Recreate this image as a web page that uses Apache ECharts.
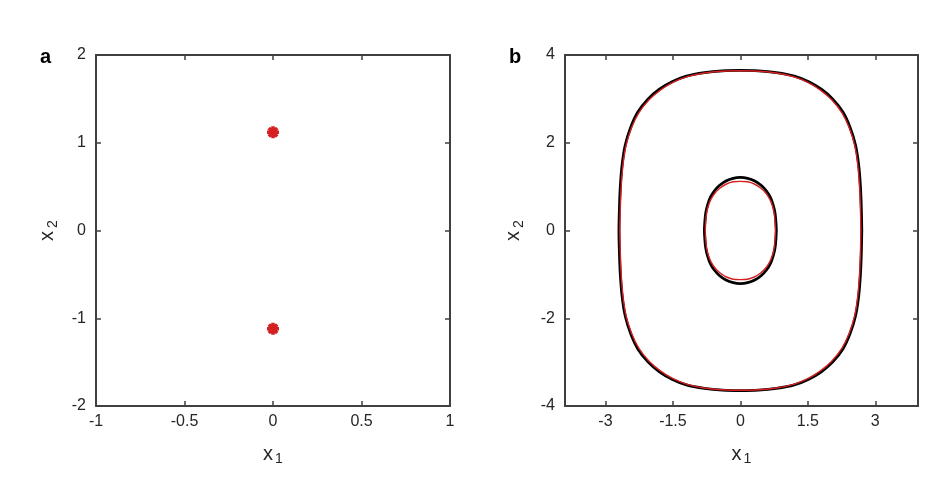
<!DOCTYPE html>
<html><head><meta charset="utf-8">
<script src="https://cdn.jsdelivr.net/npm/echarts@6/dist/echarts.min.js"></script>
<style>html,body{margin:0;background:#fff}#c{width:949px;height:482px}</style></head>
<body><div id="c"></div>
<script>
const pointsA = [[0, 1.12], [0, -1.12]];
const xTicksB = [-3, -1.5, 0, 1.5, 3];
const outerBlack = [[2.7,0],[2.69,0.5],[2.67,1.0],[2.63,1.5],[2.56,1.95],[2.44,2.35],[2.28,2.7],[2.05,3.0],[1.8,3.22],[1.52,3.39],[1.2,3.52],[0.8,3.6],[0.4,3.64],[0,3.65],
  [-0.4,3.64],[-0.8,3.6],[-1.2,3.52],[-1.52,3.39],[-1.8,3.22],[-2.05,3.0],[-2.28,2.7],[-2.44,2.35],[-2.56,1.95],[-2.63,1.5],[-2.67,1.0],[-2.69,0.5],[-2.7,0],
  [-2.69,-0.5],[-2.67,-1.0],[-2.63,-1.5],[-2.56,-1.95],[-2.44,-2.35],[-2.28,-2.7],[-2.05,-3.0],[-1.8,-3.22],[-1.52,-3.39],[-1.2,-3.52],[-0.8,-3.6],[-0.4,-3.64],[0,-3.65],
  [0.4,-3.64],[0.8,-3.6],[1.2,-3.52],[1.52,-3.39],[1.8,-3.22],[2.05,-3.0],[2.28,-2.7],[2.44,-2.35],[2.56,-1.95],[2.63,-1.5],[2.67,-1.0],[2.69,-0.5],[2.7,0]];
const outerRed = [[2.68,0],[2.67,0.5],[2.65,1.0],[2.61,1.5],[2.54,1.95],[2.42,2.34],[2.26,2.68],[2.03,2.98],[1.78,3.2],[1.51,3.37],[1.2,3.5],[0.8,3.59],[0.4,3.63],[0,3.64],
  [-0.4,3.63],[-0.8,3.59],[-1.2,3.5],[-1.51,3.37],[-1.78,3.2],[-2.03,2.98],[-2.26,2.68],[-2.42,2.34],[-2.54,1.95],[-2.61,1.5],[-2.65,1.0],[-2.67,0.5],[-2.68,0],
  [-2.67,-0.5],[-2.65,-1.0],[-2.61,-1.5],[-2.54,-1.95],[-2.42,-2.34],[-2.26,-2.68],[-2.03,-2.98],[-1.78,-3.2],[-1.51,-3.37],[-1.2,-3.5],[-0.8,-3.59],[-0.4,-3.63],[0,-3.64],
  [0.4,-3.63],[0.8,-3.59],[1.2,-3.5],[1.51,-3.37],[1.78,-3.2],[2.03,-2.98],[2.26,-2.68],[2.42,-2.34],[2.54,-1.95],[2.61,-1.5],[2.65,-1.0],[2.67,-0.5],[2.68,0]];
const innerBlack = [[0.8,0],[0.79,0.2],[0.77,0.4],[0.73,0.58],[0.67,0.75],[0.58,0.9],[0.46,1.03],[0.32,1.13],[0.16,1.19],[0,1.21],
  [-0.16,1.19],[-0.32,1.13],[-0.46,1.03],[-0.58,0.9],[-0.67,0.75],[-0.73,0.58],[-0.77,0.4],[-0.79,0.2],[-0.8,0],
  [-0.79,-0.2],[-0.77,-0.4],[-0.73,-0.58],[-0.67,-0.75],[-0.58,-0.9],[-0.46,-1.03],[-0.32,-1.13],[-0.16,-1.19],[0,-1.21],
  [0.16,-1.19],[0.32,-1.13],[0.46,-1.03],[0.58,-0.9],[0.67,-0.75],[0.73,-0.58],[0.77,-0.4],[0.79,-0.2],[0.8,0]];
const innerRed = [[0.78,0],[0.77,0.2],[0.75,0.4],[0.71,0.57],[0.65,0.72],[0.56,0.86],[0.45,0.97],[0.31,1.06],[0.16,1.11],[0,1.12],
  [-0.16,1.11],[-0.31,1.06],[-0.45,0.97],[-0.56,0.86],[-0.65,0.72],[-0.71,0.57],[-0.75,0.4],[-0.77,0.2],[-0.78,0],
  [-0.77,-0.2],[-0.75,-0.4],[-0.71,-0.57],[-0.65,-0.72],[-0.56,-0.86],[-0.45,-0.97],[-0.31,-1.06],[-0.16,-1.11],[0,-1.12],
  [0.16,-1.11],[0.31,-1.06],[0.45,-0.97],[0.56,-0.86],[0.65,-0.72],[0.71,-0.57],[0.75,-0.4],[0.77,-0.2],[0.78,0]];

const txt = '#262626', ax = '#404040', red = '#d42020';
const rich = {s:{fontSize:14, color:txt, padding:[10,0,0,2], fontFamily:'Liberation Sans'}, n:{fontSize:20, color:txt, fontFamily:'Liberation Sans'}};
function xa(grid, min, max, custom, interval, pos) {
  const o = {type:'value', gridIndex:grid, min, max, position:pos,
    axisLine:{show:true, onZero:false, lineStyle:{color:ax, width:2}},
    axisTick:{show:true, inside:true, length:5, lineStyle:{color:ax, width:1.5}},
    axisLabel:{show:pos==='bottom', color:txt, fontSize:16, fontFamily:'Liberation Sans', margin:8},
    splitLine:{show:false}};
  if (interval) o.interval = interval;
  if (custom) { o.axisTick.customValues = custom; o.axisLabel.customValues = custom; }
  if (pos==='bottom') { o.name='{n|x}{s|1}'; o.nameLocation='middle'; o.nameGap=36; o.nameTextStyle={rich}; }
  return o;
}
function ya(grid, min, max, interval, pos) {
  return {type:'value', gridIndex:grid, min, max, interval, position:pos,
    axisLine:{show:true, onZero:false, lineStyle:{color:ax, width:2}},
    axisTick:{show:true, inside:true, length:5, lineStyle:{color:ax, width:1.5}},
    axisLabel:{show:pos==='left', color:txt, fontSize:16, fontFamily:'Liberation Sans', margin:10},
    splitLine:{show:false}};
}
function ylabel(x, y) {
  return {type:'group', x, y, rotation:Math.PI/2, children:[
    {type:'text', x:0, y:0, style:{text:'x', font:'20px Liberation Sans', fill:txt, align:'center', verticalAlign:'middle'}},
    {type:'text', x:12, y:6, style:{text:'2', font:'14px Liberation Sans', fill:txt, align:'center', verticalAlign:'middle'}}
  ]};
}
const chart = echarts.init(document.getElementById('c'));
const line = (data, color, w) => ({type:'line', xAxisIndex:2, yAxisIndex:2, data, smooth:0.3, showSymbol:false, lineStyle:{color, width:w}, silent:true});
chart.setOption({
  animation:false,
  graphic:[
    {type:'text', left:40, top:47, style:{text:'a', font:'bold 20px Liberation Sans', fill:'#000'}},
    {type:'text', left:509, top:47, style:{text:'b', font:'bold 20px Liberation Sans', fill:'#000'}},
    ylabel(47, 236), ylabel(513, 236)
  ],
  grid:[{left:96, top:55, width:354, height:351}, {left:565, top:55, width:353, height:351}],
  xAxis:[xa(0,-1,1,null,0.5,'bottom'), xa(0,-1,1,null,0.5,'top'),
         xa(1,-3.9,3.95,xTicksB,null,'bottom'), xa(1,-3.9,3.95,xTicksB,null,'top')],
  yAxis:[ya(0,-2,2,1,'left'), ya(0,-2,2,1,'right'), ya(1,-4,4,2,'left'), ya(1,-4,4,2,'right')],
  series:[
    {type:'scatter', xAxisIndex:0, yAxisIndex:0, data:pointsA, symbol:'path://M0,-1L0,1M-1,0L1,0M-0.7,-0.7L0.7,0.7M-0.7,0.7L0.7,-0.7M0,-1L0,1', symbolSize:12, itemStyle:{color:'none', borderColor:red, borderWidth:3.5, opacity:1}},
    line(outerBlack,'#000',2.8), line(innerBlack,'#000',2.8),
    line(outerRed,red,1.4), line(innerRed,red,1.4)
  ]
});
</script></body></html>
